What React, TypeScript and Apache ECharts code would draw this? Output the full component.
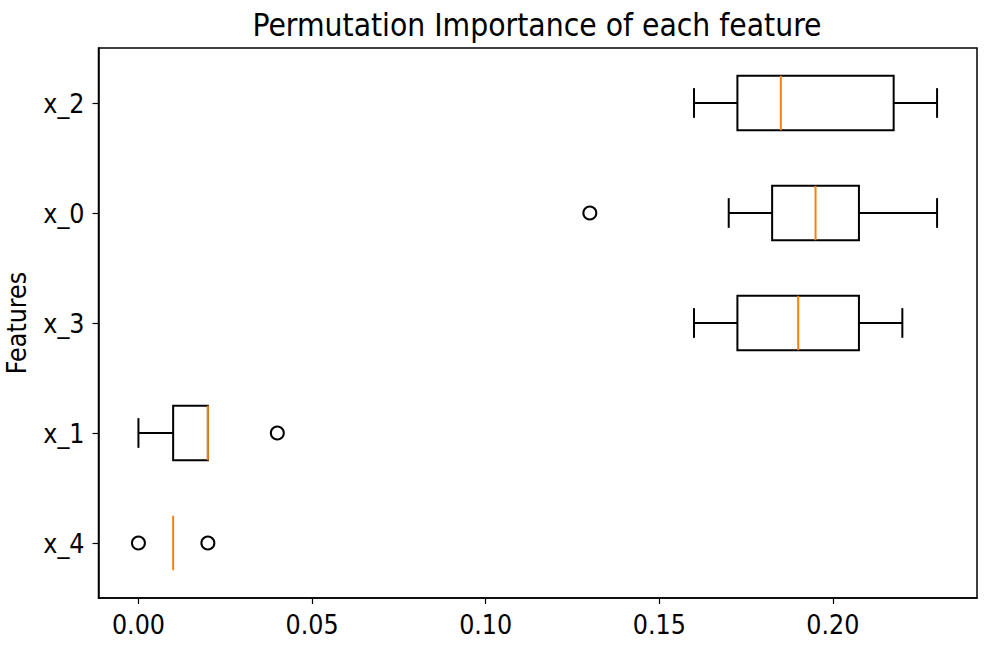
import React, { useEffect, useRef } from "react";
import * as echarts from "echarts";

// categories from bottom to top
const features = ["x_4", "x_1", "x_3", "x_0", "x_2"];
const whiskerLow = [0.01, 0.0, 0.16, 0.17, 0.16];
const q1 = [0.01, 0.01, 0.1725, 0.1825, 0.1725];
const medians = [0.01, 0.02, 0.19, 0.195, 0.185];
const q3 = [0.01, 0.02, 0.2075, 0.2075, 0.2175];
const whiskerHigh = [0.01, 0.02, 0.22, 0.23, 0.23];
const outlierValues = [0.0, 0.02, 0.04, 0.13];
const outlierFeatures = ["x_4", "x_4", "x_1", "x_0"];
const xTicks = [0, 0.05, 0.1, 0.15, 0.2];
const xMin = -0.0115;
const xMax = 0.2415;

const FONT = "'DejaVu Sans Condensed', 'DejaVu Sans', sans-serif";

export default function App() {
  const ref = useRef<HTMLDivElement>(null);
  useEffect(() => {
    if (!ref.current) return;
    const chart = echarts.init(ref.current, null, { renderer: "svg" });
    const boxData = features.map((_, i) => [i, whiskerLow[i], q1[i], medians[i], q3[i], whiskerHigh[i]]);
    const outData = outlierValues.map((v, i) => [v, outlierFeatures[i]]);
    chart.setOption({
      animation: false,
      backgroundColor: "#fff",
      title: {
        text: "Permutation Importance of each feature",
        left: 532,
        textAlign: "center",
        top: 4,
        textStyle: { fontFamily: FONT, fontSize: 31.5, fontWeight: "normal", color: "#000" },
      },
      grid: {
        left: 98.5,
        right: 7,
        top: 48,
        bottom: 56,
        show: true,
        borderColor: "#000",
        borderWidth: 1.5,
        backgroundColor: "transparent",
        containLabel: false,
        outerBoundsMode: "none",
      },
      xAxis: {
        type: "value",
        min: xMin,
        max: xMax,
        splitLine: { show: false },
        axisLine: { show: true, onZero: false, lineStyle: { color: "#000", width: 1.5 } },
        axisTick: {
          show: true,
          length: 6,
          lineStyle: { color: "#000", width: 1.2 },
          customValues: xTicks,
        },
        axisLabel: {
          customValues: xTicks,
          formatter: (v: number) => v.toFixed(2),
          fontFamily: FONT,
          fontSize: 26.5,
          color: "#000",
          margin: 13,
        },
      },
      yAxis: {
        type: "category",
        data: features,
        name: "Features",
        nameLocation: "middle",
        nameGap: 69,
        nameTextStyle: { fontFamily: FONT, fontSize: 26.5, color: "#000" },
        axisLine: { show: true, onZero: false, lineStyle: { color: "#000", width: 1.5 } },
        axisTick: { show: true, alignWithLabel: true, length: 6, lineStyle: { color: "#000", width: 1.2 } },
        axisLabel: { fontFamily: FONT, fontSize: 26.5, color: "#000", margin: 14 },
        splitLine: { show: false },
      },
      series: [
        {
          type: "custom",
          data: boxData,
          encode: { x: [1, 2, 3, 4, 5], y: 0 },
          renderItem: (params: any, api: any) => {
            const c = api.value(0);
            const lo = api.coord([api.value(1), c]);
            const a = api.coord([api.value(2), c]);
            const m = api.coord([api.value(3), c]);
            const b = api.coord([api.value(4), c]);
            const hi = api.coord([api.value(5), c]);
            const band = api.size([0, 1])[1];
            const bh = band * 0.495;
            const ch = band * 0.27;
            const cy = lo[1];
            const black = { stroke: "#000", lineWidth: 2, fill: null };
            const children: any[] = [];
            if (a[0] - lo[0] > 0.5) {
              children.push({ type: "line", shape: { x1: lo[0], y1: cy, x2: a[0], y2: cy }, style: black });
              children.push({ type: "line", shape: { x1: lo[0], y1: cy - ch / 2, x2: lo[0], y2: cy + ch / 2 }, style: black });
            }
            if (hi[0] - b[0] > 0.5) {
              children.push({ type: "line", shape: { x1: b[0], y1: cy, x2: hi[0], y2: cy }, style: black });
              children.push({ type: "line", shape: { x1: hi[0], y1: cy - ch / 2, x2: hi[0], y2: cy + ch / 2 }, style: black });
            }
            if (b[0] - a[0] > 0.5) {
              children.push({
                type: "rect",
                shape: { x: a[0], y: cy - bh / 2, width: b[0] - a[0], height: bh },
                style: { stroke: "#000", lineWidth: 2, fill: "none" },
              });
            }
            children.push({
              type: "line",
              shape: { x1: m[0], y1: cy - bh / 2, x2: m[0], y2: cy + bh / 2 },
              style: { stroke: "#ff7f0e", lineWidth: 2 },
            });
            return { type: "group", children };
          },
          z: 2,
        },
        {
          type: "scatter",
          data: outData,
          symbol: "circle",
          symbolSize: 13,
          itemStyle: { color: "#fff", borderColor: "#000", borderWidth: 2, opacity: 1 },
          z: 3,
        },
      ],
    });
    return () => chart.dispose();
  }, []);
  return (
    <div
      ref={ref}
      style={{ position: "fixed", left: 0, top: 0, width: 984, height: 654, background: "#fff" }}
    />
  );
}
